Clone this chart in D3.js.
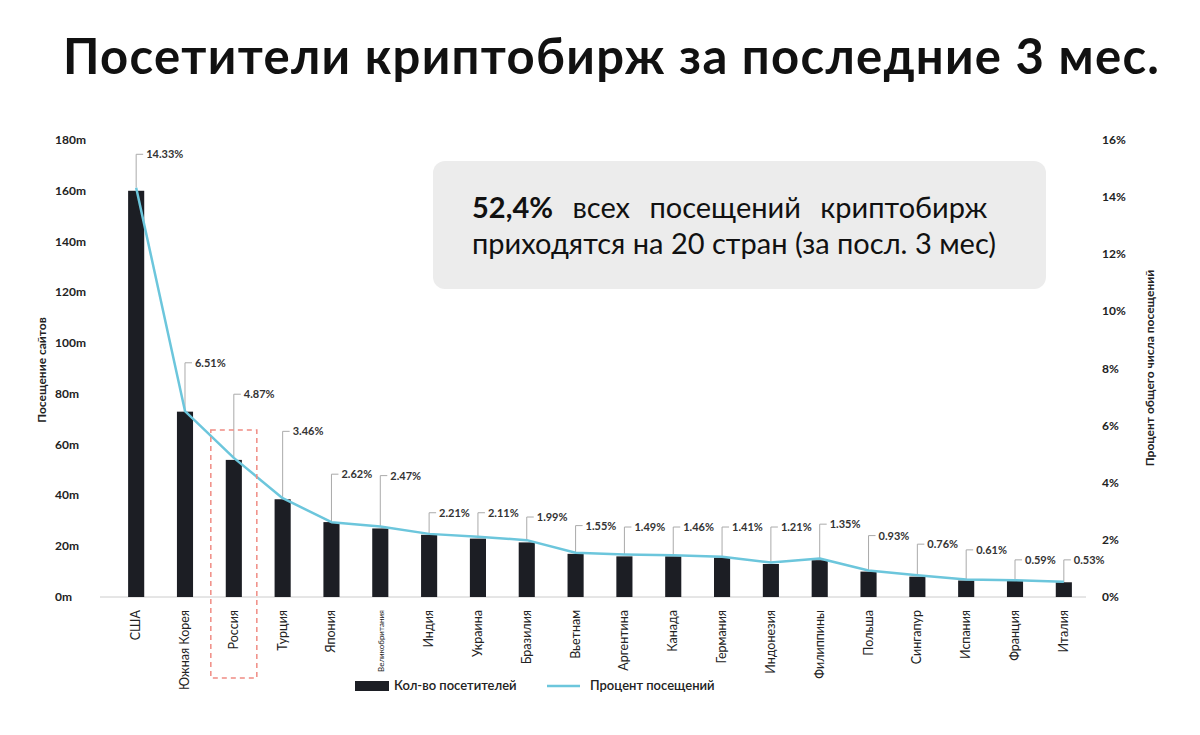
<!DOCTYPE html>
<html><head><meta charset="utf-8">
<script src="https://cdn.jsdelivr.net/npm/d3@7"></script>
<style>body{margin:0;background:#fff;font-family:Lato,"Open Sans",sans-serif}</style>
</head><body><svg id="c" width="1200" height="735"></svg>
<script>
const countries = ['США','Южная Корея','Россия','Турция','Япония','Великобритания','Индия','Украина','Бразилия','Вьетнам','Аргентина','Канада','Германия','Индонезия','Филиппины','Польша','Сингапур','Испания','Франция','Италия'];
const visitors = [160, 73, 54, 38.5, 29.5, 27, 24.5, 23, 21.5, 17, 16, 16, 15.5, 13, 14.5, 10, 8, 6.5, 6.5, 5.8];
const shares = [14.33, 6.51, 4.87, 3.46, 2.62, 2.47, 2.21, 2.11, 1.99, 1.55, 1.49, 1.46, 1.41, 1.21, 1.35, 0.93, 0.76, 0.61, 0.59, 0.53];
// label heights in percent units (where the leader line ends)
const labelAt = [15.5, 8.2, 7.1, 5.8, 4.3, 4.25, 2.95, 2.95, 2.8, 2.5, 2.45, 2.45, 2.45, 2.45, 2.55, 2.15, 1.85, 1.65, 1.3, 1.3];
const leftTicks = [0, 20, 40, 60, 80, 100, 120, 140, 160, 180];
const rightTicks = [0, 2, 4, 6, 8, 10, 12, 14, 16];

const svg = d3.select('#c');
const x = d3.scaleBand().domain(countries).range([112, 1088]).paddingInner(0.67).paddingOuter(0.33);
const y = d3.scaleLinear().domain([0, 180]).range([597, 140]);
const yr = d3.scaleLinear().domain([0, 16]).range([597, 140]);
const cx = (d) => x(d) + x.bandwidth() / 2;

svg.append('text').attr('x', 611).attr('y', 74).attr('text-anchor', 'middle')
  .attr('font-size', 49).attr('font-weight', 700).attr('fill', '#111').attr('textLength', 1096)
  .text('Посетители криптобирж за последние 3 мес.');

// axes
svg.append('g').selectAll('text').data(leftTicks).join('text')
  .attr('x', 55).attr('y', (d) => y(d) + 4).attr('font-size', 12).attr('font-weight', 700).attr('fill', '#222')
  .text((d) => `${d}m`);
svg.append('g').selectAll('text').data(rightTicks).join('text')
  .attr('x', 1102).attr('y', (d) => yr(d) + 4).attr('font-size', 12).attr('font-weight', 700).attr('fill', '#222')
  .text((d) => `${d}%`);
svg.append('line').attr('x1', 100).attr('x2', 1086).attr('y1', y(0)).attr('y2', y(0)).attr('stroke', '#ccc');

svg.append('text').attr('transform', 'translate(46,370) rotate(-90)').attr('text-anchor', 'middle')
  .attr('font-size', 12).attr('font-weight', 700).attr('fill', '#222').text('Посещение сайтов');
svg.append('text').attr('transform', 'translate(1154,368) rotate(-90)').attr('text-anchor', 'middle')
  .attr('font-size', 12).attr('font-weight', 700).attr('fill', '#222').text('Процент общего числа посещений');

// callout box
svg.append('rect').attr('x', 433).attr('y', 161).attr('width', 613).attr('height', 128).attr('rx', 12).attr('fill', '#ececec');
const t1 = svg.append('text').attr('x', 472).attr('y', 218).attr('font-size', 29).attr('fill', '#111').attr('word-spacing', 12);
t1.append('tspan').attr('font-weight', 700).text('52,4%');
t1.append('tspan').text(' всех посещений криптобирж');
svg.append('text').attr('x', 472).attr('y', 254).attr('font-size', 29).attr('fill', '#111')
  .text('приходятся на 20 стран (за посл. 3 мес)');

// bars
svg.append('g').selectAll('rect').data(countries).join('rect')
  .attr('x', (d) => x(d)).attr('width', x.bandwidth())
  .attr('y', (d, i) => y(visitors[i])).attr('height', (d, i) => y(0) - y(visitors[i]))
  .attr('fill', '#1c1e24');

// leader lines + labels
const lg = svg.append('g');
countries.forEach((c, i) => {
  const px = cx(c), py = yr(shares[i]), ly = yr(labelAt[i]);
  lg.append('path').attr('d', `M${px},${py}V${ly}h7`).attr('fill', 'none').attr('stroke', '#aaa').attr('stroke-width', 1);
  lg.append('text').attr('x', px + 10).attr('y', ly + 4).attr('font-size', 11).attr('font-weight', 700).attr('fill', '#333')
    .text(`${shares[i].toFixed(2)}%`);
});

// line
svg.append('path').datum(shares)
  .attr('d', d3.line().x((d, i) => cx(countries[i])).y((d) => yr(d)))
  .attr('fill', 'none').attr('stroke', '#6cc6dc').attr('stroke-width', 2.5).attr('stroke-linejoin', 'round');

// category labels
svg.append('g').selectAll('text').data(countries).join('text')
  .attr('transform', (d) => `translate(${cx(d) + 4},610) rotate(-90)`)
  .attr('text-anchor', 'end').attr('font-size', (d) => (d === 'Великобритания' ? 8 : 12.5))
  .attr('fill', '#222').text((d) => d);

// highlight Russia
svg.append('rect').attr('x', cx('Россия') - 23).attr('y', 430).attr('width', 46).attr('height', 248)
  .attr('fill', 'none').attr('stroke', '#f08c84').attr('stroke-width', 1.5).attr('stroke-dasharray', '5,4');

// legend
svg.append('rect').attr('x', 355).attr('y', 681).attr('width', 34).attr('height', 10).attr('fill', '#1c1e24');
svg.append('text').attr('x', 394).attr('y', 690).attr('font-size', 13).attr('font-weight', 600).attr('fill', '#222').text('Кол-во посетителей');
svg.append('line').attr('x1', 547).attr('x2', 580).attr('y1', 686).attr('y2', 686).attr('stroke', '#6cc6dc').attr('stroke-width', 2.5);
svg.append('text').attr('x', 590).attr('y', 690).attr('font-size', 13).attr('font-weight', 600).attr('fill', '#222').text('Процент посещений');
</script></body></html>
